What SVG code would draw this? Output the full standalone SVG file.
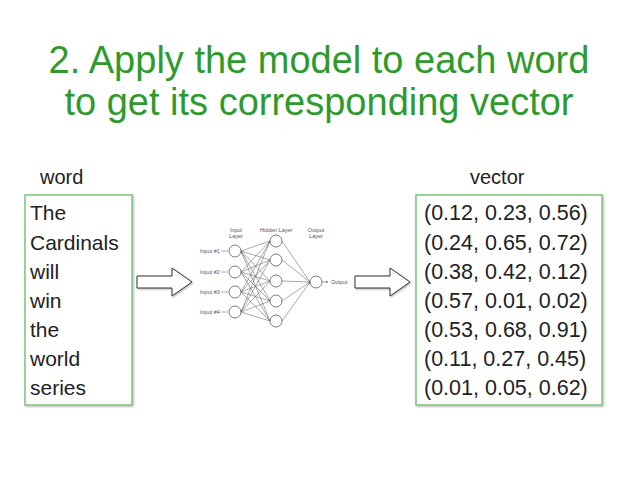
<svg xmlns="http://www.w3.org/2000/svg" width="638" height="479" viewBox="0 0 638 479">
<defs>
<style>
.t{font-family:"Helvetica Neue","Liberation Sans",Arial,sans-serif;fill:#222}
.title{font-family:"Helvetica Neue","Liberation Sans",Arial,sans-serif;fill:#2e9a2e;font-size:38px;text-anchor:middle}
.box{fill:#fff;stroke:#7cc47c;stroke-width:1.5}
.n{fill:#fff;stroke:#444;stroke-width:0.7}
.e{stroke:#555;stroke-width:0.5;fill:none;marker-end:url(#a)}
.s{font-family:"Liberation Sans",Arial,sans-serif;font-size:5.5px;fill:#555}
.big{fill:#fff;stroke:#333;stroke-width:1}
</style>
<marker id="a" markerWidth="4" markerHeight="4" refX="4" refY="2" orient="auto"><path d="M0,0L4,2L0,4z" fill="#555"/></marker>
<filter id="sh"><feDropShadow dx="1" dy="1" stdDeviation="1" flood-opacity="0.3"/></filter>
</defs>
<text class="title" x="319" y="73">2. Apply the model to each word</text>
<text class="title" x="319" y="115">to get its corresponding vector</text>
<text class="t" x="40" y="184" font-size="20">word</text>
<text class="t" x="470" y="184" font-size="20">vector</text>
<g id="words">
<rect class="box" x="25" y="195" width="107" height="210" filter="url(#sh)"/>
<text class="t" font-size="21" x="30"><tspan x="30" y="220">The</tspan><tspan x="30" y="250">Cardinals</tspan><tspan x="30" y="279">will</tspan><tspan x="30" y="308">win</tspan><tspan x="30" y="337">the</tspan><tspan x="30" y="366">world</tspan><tspan x="30" y="395">series</tspan></text>
</g>
<g id="vectors">
<rect class="box" x="416" y="195" width="186" height="210" filter="url(#sh)"/>
<text class="t" font-size="21.5" x="424"><tspan x="424" y="220">(0.12, 0.23, 0.56)</tspan><tspan x="424" y="250">(0.24, 0.65, 0.72)</tspan><tspan x="424" y="279">(0.38, 0.42, 0.12)</tspan><tspan x="424" y="308">(0.57, 0.01, 0.02)</tspan><tspan x="424" y="337">(0.53, 0.68, 0.91)</tspan><tspan x="424" y="366">(0.11, 0.27, 0.45)</tspan><tspan x="424" y="395">(0.01, 0.05, 0.62)</tspan></text>
</g>
<g id="connectors">
<path class="big" d="M137,276H172V268L192,282L172,296V288H137Z" filter="url(#sh)"/>
<path class="big" d="M355,276H390V268L410,282L390,296V288H355Z" filter="url(#sh)"/>
</g>
<g id="network">
<text class="s" x="236" y="232" text-anchor="middle">Input</text>
<text class="s" x="236" y="238" text-anchor="middle">Layer</text>
<text class="s" x="276" y="232" text-anchor="middle">Hidden Layer</text>
<text class="s" x="316" y="232" text-anchor="middle">Output</text>
<text class="s" x="316" y="238" text-anchor="middle">Layer</text>
<text class="s" x="200" y="253">Input #1</text>
<text class="s" x="200" y="274">Input #2</text>
<text class="s" x="200" y="294">Input #3</text>
<text class="s" x="200" y="314">Input #4</text>
<text class="s" x="331" y="284">Output</text>
<g>
<path class="e" d="M221,251H228M221,272H228M221,292H228M221,312H228M322,282H328"/>
<path class="e" d="M241,251L270,241M241,251L270,260M241,251L270,281M241,251L270,301M241,251L270,321
M241,272L270,241M241,272L270,260M241,272L270,281M241,272L270,301M241,272L270,321
M241,292L270,241M241,292L270,260M241,292L270,281M241,292L270,301M241,292L270,321
M241,312L270,241M241,312L270,260M241,312L270,281M241,312L270,301M241,312L270,321
M282,241L310,282M282,260L310,282M282,281L310,282M282,301L310,282M282,321L310,282"/>
</g>
<circle class="n" cx="235" cy="251" r="6"/><circle class="n" cx="235" cy="272" r="6"/><circle class="n" cx="235" cy="292" r="6"/><circle class="n" cx="235" cy="312" r="6"/>
<circle class="n" cx="276" cy="241" r="6"/><circle class="n" cx="276" cy="260" r="6"/><circle class="n" cx="276" cy="281" r="6"/><circle class="n" cx="276" cy="301" r="6"/><circle class="n" cx="276" cy="321" r="6"/>
<circle class="n" cx="316" cy="282" r="6"/>
</g>
</svg>
